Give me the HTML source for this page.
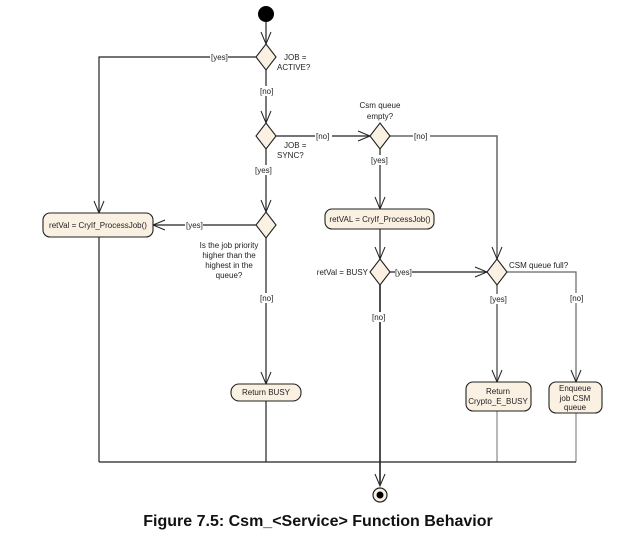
<!DOCTYPE html>
<html><head><meta charset="utf-8"><style>
html,body{margin:0;padding:0;background:#fff;}
svg{display:block;}
text{font-family:"Liberation Sans",sans-serif;font-size:8px;fill:#222;}
.lb{fill:#fff;}
</style></head><body>
<svg width="621" height="537" viewBox="0 0 621 537" xmlns="http://www.w3.org/2000/svg">
<defs>
<g id="ah"><path d="M-5,-12 L0,0 L5,-12" fill="none" stroke="#222" stroke-width="1"/></g>
</defs>
<g stroke="#222" stroke-width="1.2" fill="none">
<line x1="266" y1="22" x2="266" y2="44"/>
<polyline points="256,57 99,57 99,213"/>
<line x1="266" y1="70" x2="266" y2="123"/>
<line x1="276" y1="136" x2="370" y2="136"/>
<line x1="266" y1="149" x2="266" y2="212"/>
<line x1="256" y1="225" x2="153" y2="225"/>
<line x1="266" y1="238" x2="266" y2="384"/>
<line x1="266" y1="401" x2="266" y2="462"/>
<polyline points="390,136 497,136 497,259" stroke="#666" stroke-width="1.5"/>
<line x1="380" y1="149" x2="380" y2="209"/>
<line x1="380" y1="229" x2="380" y2="259"/>
<line x1="390" y1="272" x2="487" y2="272"/>
<line x1="380" y1="285" x2="380" y2="484" stroke-width="1.6"/>
<line x1="497" y1="285" x2="497" y2="382" stroke="#666" stroke-width="1.5"/>
<polyline points="507,272 576,272 576,382" stroke="#666" stroke-width="1.2"/>
<line x1="497" y1="411" x2="497" y2="462" stroke="#888"/>
<line x1="576" y1="413" x2="576" y2="462" stroke="#888"/>
<line x1="99" y1="237" x2="99" y2="462"/>
<line x1="99" y1="462" x2="576" y2="462"/>
</g>
<g>
<use href="#ah" transform="translate(266,44)"/>
<use href="#ah" transform="translate(99,213)"/>
<use href="#ah" transform="translate(266,123)"/>
<use href="#ah" transform="translate(370,136) rotate(-90)"/>
<use href="#ah" transform="translate(266,212)"/>
<use href="#ah" transform="translate(153,225) rotate(90)"/>
<use href="#ah" transform="translate(266,384)"/>
<use href="#ah" transform="translate(380,209)"/>
<use href="#ah" transform="translate(497,259)"/>
<use href="#ah" transform="translate(380,259)"/>
<use href="#ah" transform="translate(487,272) rotate(-90)"/>
<use href="#ah" transform="translate(497,382)"/>
<use href="#ah" transform="translate(576,382)"/>
<use href="#ah" transform="translate(380,486)"/>
</g>
<circle cx="266" cy="14" r="8" fill="#000"/>
<circle cx="380" cy="495" r="7" fill="#fbf1e3" stroke="#222" stroke-width="1.2"/>
<circle cx="380" cy="495" r="3.5" fill="#000"/>
<g fill="#fbf1e3" stroke="#222" stroke-width="1.1">
<polygon points="266,44 276,57 266,70 256,57"/>
<polygon points="266,123 276,136 266,149 256,136"/>
<polygon points="380,123 390,136 380,149 370,136"/>
<polygon points="266,212 276,225 266,238 256,225"/>
<polygon points="380,259 390,272 380,285 370,272"/>
<polygon points="497,259 507,272 497,285 487,272"/>
<rect x="43" y="213" width="110" height="24" rx="7"/>
<rect x="325" y="209" width="109" height="20" rx="7"/>
<rect x="231" y="384" width="70" height="17" rx="8"/>
<rect x="466" y="382" width="65" height="29" rx="7"/>
<rect x="549" y="382" width="53" height="31" rx="7"/>
</g>
<text x="98" y="228" text-anchor="middle">retVal = CryIf_ProcessJob()</text>
<text x="380" y="222" text-anchor="middle">retVAL = CryIf_ProcessJob()</text>
<text x="266" y="395" text-anchor="middle">Return BUSY</text>
<text x="498" y="394" text-anchor="middle">Return</text>
<text x="498" y="404" text-anchor="middle">Crypto_E_BUSY</text>
<text x="575" y="391" text-anchor="middle">Enqueue</text>
<text x="575" y="401" text-anchor="middle">job CSM</text>
<text x="575" y="410" text-anchor="middle">queue</text>
<text x="284" y="60">JOB =</text>
<text x="277" y="70">ACTIVE?</text>
<text x="284" y="148">JOB =</text>
<text x="277" y="158">SYNC?</text>
<text x="380" y="108" text-anchor="middle">Csm queue</text>
<text x="380" y="119" text-anchor="middle">empty?</text>
<text x="229" y="248" text-anchor="middle">Is the job priority</text>
<text x="229" y="258" text-anchor="middle">higher than the</text>
<text x="229" y="268" text-anchor="middle">highest in the</text>
<text x="229" y="278" text-anchor="middle">queue?</text>
<text x="368" y="275" text-anchor="end">retVal = BUSY</text>
<text x="509" y="268">CSM queue full?</text>
<g>
<rect class="lb" x="210" y="52" width="18" height="10"/><text x="211" y="60">[yes]</text>
<rect class="lb" x="259" y="86" width="15" height="10"/><text x="260" y="94">[no]</text>
<rect class="lb" x="315" y="131" width="17" height="10"/><text x="316" y="139">[no]</text>
<rect class="lb" x="255" y="165" width="16" height="10"/><text x="255" y="173">[yes]</text>
<rect class="lb" x="185" y="220" width="18" height="10"/><text x="186" y="228">[yes]</text>
<rect class="lb" x="259" y="293" width="15" height="10"/><text x="260" y="301">[no]</text>
<rect class="lb" x="370" y="155" width="19" height="10"/><text x="371" y="163">[yes]</text>
<rect class="lb" x="413" y="131" width="17" height="10"/><text x="414" y="139">[no]</text>
<rect class="lb" x="395" y="267" width="17" height="10"/><text x="395" y="275">[yes]</text>
<rect class="lb" x="371" y="312" width="16" height="10"/><text x="372" y="320">[no]</text>
<rect class="lb" x="490" y="294" width="17" height="10"/><text x="490" y="302">[yes]</text>
<rect class="lb" x="569" y="293" width="15" height="10"/><text x="570" y="301">[no]</text>
</g>
<text x="318" y="526" text-anchor="middle" style="font-size:16px;font-weight:bold;fill:#111">Figure 7.5: Csm_&lt;Service&gt; Function Behavior</text>
</svg>
</body></html>
